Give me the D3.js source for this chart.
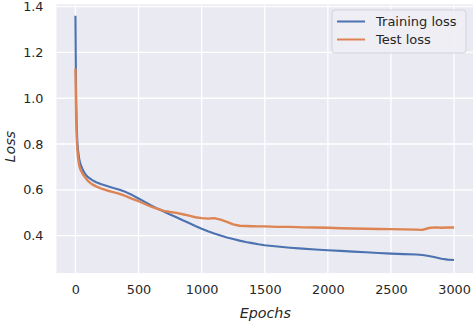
<!DOCTYPE html>
<html>
<head>
<meta charset="utf-8">
<script src="https://cdn.jsdelivr.net/npm/d3@7"></script>
<style>
  html, body { margin: 0; padding: 0; background: #fff; }
  svg { display: block; font-family: "DejaVu Sans", sans-serif; }
</style>
</head>
<body>
<svg id="chart" width="474" height="323"></svg>
<script>
// Epochs at which the losses were sampled
const epochs = [0, 3, 6, 10, 15, 20, 30, 40, 60, 80, 100, 130, 160, 200, 250, 300, 350, 400, 450, 500,
  550, 600, 650, 700, 750, 800, 850, 900, 950, 1000, 1050, 1100, 1150, 1200, 1250, 1300, 1350, 1400,
  1450, 1500, 1600, 1700, 1800, 1900, 2000, 2100, 2200, 2300, 2400, 2500, 2600, 2700, 2750, 2800,
  2850, 2900, 2950, 3000];

const trainingLoss = [1.36, 1.15, 0.98, 0.88, 0.81, 0.775, 0.735, 0.712, 0.685, 0.667, 0.655, 0.643,
  0.634, 0.625, 0.617, 0.608, 0.600, 0.590, 0.577, 0.562, 0.547, 0.532, 0.518, 0.505, 0.492, 0.480,
  0.467, 0.455, 0.442, 0.430, 0.419, 0.409, 0.400, 0.392, 0.385, 0.378, 0.372, 0.367, 0.362, 0.358,
  0.352, 0.347, 0.343, 0.339, 0.336, 0.333, 0.330, 0.327, 0.324, 0.321, 0.319, 0.317, 0.315, 0.311,
  0.305, 0.299, 0.295, 0.293];

const testLoss = [1.13, 1.02, 0.90, 0.83, 0.775, 0.745, 0.706, 0.688, 0.667, 0.652, 0.638, 0.625,
  0.616, 0.606, 0.597, 0.590, 0.582, 0.572, 0.560, 0.550, 0.538, 0.526, 0.517, 0.508, 0.503, 0.499,
  0.493, 0.487, 0.480, 0.476, 0.474, 0.476, 0.470, 0.460, 0.449, 0.443, 0.442, 0.441, 0.440, 0.440,
  0.438, 0.438, 0.436, 0.435, 0.434, 0.432, 0.431, 0.430, 0.429, 0.428, 0.427, 0.426, 0.425, 0.433,
  0.436, 0.434, 0.435, 0.435];

const xTicks = [0, 500, 1000, 1500, 2000, 2500, 3000];
const yTicks = [0.4, 0.6, 0.8, 1.0, 1.2, 1.4];
const seriesNames = ["Training loss", "Test loss"];

const svg = d3.select("#chart");
const plot = { left: 56.5, right: 473, top: 4.5, bottom: 273 };

const x = d3.scaleLinear().domain([-150, 3150]).range([plot.left, plot.right]);
const y = d3.scaleLinear().domain([0.2365, 1.4095]).range([plot.bottom, plot.top]);

// Seaborn "darkgrid" panel
svg.append("rect")
  .attr("x", plot.left).attr("y", plot.top)
  .attr("width", plot.right - plot.left).attr("height", plot.bottom - plot.top)
  .attr("fill", "#EAEAF2");

svg.append("g")
  .selectAll("line.vx")
  .data(xTicks).join("line")
  .attr("x1", d => x(d)).attr("x2", d => x(d))
  .attr("y1", plot.top).attr("y2", plot.bottom)
  .attr("stroke", "#fff").attr("stroke-width", 1.3);

svg.append("g")
  .selectAll("line.hy")
  .data(yTicks).join("line")
  .attr("x1", plot.left).attr("x2", plot.right)
  .attr("y1", d => y(d)).attr("y2", d => y(d))
  .attr("stroke", "#fff").attr("stroke-width", 1.3);

// Axes (labels only, no spines or tick marks)
const xAxis = d3.axisBottom(x).tickValues(xTicks).tickSize(0).tickPadding(12).tickFormat(d3.format("d"));
const gx = svg.append("g").attr("transform", `translate(0,${plot.bottom})`).call(xAxis);
gx.select(".domain").remove();
gx.selectAll("text").attr("font-size", 12.8).attr("fill", "#262626").attr("font-family", "DejaVu Sans");

const yAxis = d3.axisLeft(y).tickValues(yTicks).tickSize(0).tickPadding(13).tickFormat(d3.format(".1f"));
const gy = svg.append("g").attr("transform", `translate(${plot.left},0)`).call(yAxis);
gy.select(".domain").remove();
gy.selectAll("text").attr("font-size", 12.8).attr("fill", "#262626").attr("font-family", "DejaVu Sans");

// Loss curves
const colors = ["#4C72B0", "#DD8452"];
const widths = [2.1, 2.4];
const series = [trainingLoss, testLoss];
const line = d3.line().x((d, i) => x(epochs[i])).y(d => y(d));

svg.append("defs").append("clipPath").attr("id", "clip")
  .append("rect").attr("x", plot.left).attr("y", plot.top)
  .attr("width", plot.right - plot.left).attr("height", plot.bottom - plot.top);

svg.append("g").attr("clip-path", "url(#clip)")
  .selectAll("path")
  .data(series).join("path")
  .attr("d", d => line(d))
  .attr("fill", "none")
  .attr("stroke", (d, i) => colors[i])
  .attr("stroke-width", (d, i) => widths[i])
  .attr("stroke-linejoin", "round");

// Axis titles
svg.append("text")
  .attr("x", (plot.left + plot.right) / 2 + 0.5).attr("y", 318)
  .attr("text-anchor", "middle")
  .attr("font-size", 14.3).attr("font-style", "italic").attr("fill", "#262626")
  .text("Epochs");

svg.append("text")
  .attr("transform", `translate(15,${(plot.top + plot.bottom) / 2 + 8}) rotate(-90)`)
  .attr("text-anchor", "middle")
  .attr("font-size", 14.3).attr("font-style", "italic").attr("fill", "#262626")
  .text("Loss");

// Legend
const legend = svg.append("g").attr("transform", "translate(332,10)");
legend.append("rect")
  .attr("width", 134).attr("height", 43).attr("rx", 3)
  .attr("fill", "#EEEEF4").attr("fill-opacity", 0.9)
  .attr("stroke", "#D3D3DC").attr("stroke-width", 1);

const items = legend.selectAll("g.item")
  .data(seriesNames).join("g")
  .attr("transform", (d, i) => `translate(0,${11.5 + i * 18})`);
items.append("line")
  .attr("x1", 5).attr("x2", 33)
  .attr("stroke", (d, i) => colors[i]).attr("stroke-width", 2);
items.append("text")
  .attr("x", 44).attr("y", 4.6)
  .attr("font-size", 13).attr("fill", "#262626")
  .text(d => d);
</script>
</body>
</html>
